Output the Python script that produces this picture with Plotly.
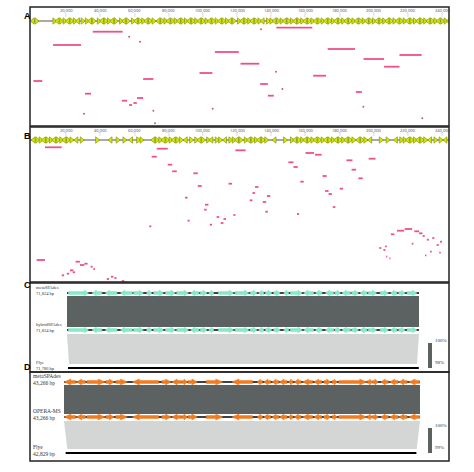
import plotly.graph_objects as go

W, H = 474, 472

# ---------------- data ----------------
a_segs = [(12.3,28.7,45),(35.5,53,31.7),(143,164,27.7),(107,121,52),(122,133,63.7),(173,189,49),
          (194,206,59),(215,228,55),(206,215,66.7),(98,105.5,73),(164.5,172,75.7),(0.8,6,81),
          (65,71,79),(31,34.5,93.7),(133.5,138,84),(138,141.5,95.7),(189.5,193,92),(52.6,55.6,100.7),
          (61.4,65,98),(56.8,58.5,105),(59.3,61.3,103)]
a_dots = [(56.8,36.7),(63.2,41.7),(134,29.3),(142.8,71.7),(146.5,89),(30.4,113.7),(71,110.7),
          (105.7,108.7),(193.9,106.7),(228.4,118.3),(72,123.3)]
b_segs = [(7.6,17.3,147.3),(73,79.4,148.7),(119,125,150.3),(160,165,153),(165.6,169.5,154.7),
          (70,73,156.7),(197,201,158.7),(184,187.5,160.3),(150,153,162.3),(153,155.5,167),
          (79.4,82,164.7),(82,84.7,171.3),(94.4,97,173.3),(187,189.6,169.7),(191,193.5,178.3),
          (170,172.4,176),(97,99.3,186),(115,117,183.7),(157,159,181.7),(180,182,188.7),
          (130.5,132.5,187),(129,130.5,193),(171.5,173.5,191),(173.5,175.5,194),(137.4,139.4,196),
          (127.4,129,200.3),(135,137,202),(176,177.5,207),(136.5,138,211.7),(101.2,103.2,204.7),
          (100.7,102.2,209.7),(89.5,91,197.7),(108,109.5,217),(110.4,112,223),(112,113.5,219),
          (117.8,119,215),(104,105.3,224.7),(91,92.2,220.7),(155,156.3,214),(68.6,69.8,226.3),
          (2.7,7.6,260),(25.5,28,261.7),(28,30.6,265),(30.6,32.5,263.7),(22.2,24.2,270.3),
          (23.8,25.2,272.3),(20.3,21.7,273.7),(17.4,18.8,275.3),(34.3,35.5,266.7),(35.9,36.8,269),
          (43.7,45.1,279),(46.2,47.6,276.7),(48.2,49.4,278),(52.5,53.9,281),(54.8,55.8,282.5),
          (218,222.4,229),(213.6,217.7,230.7),(210,212,234.3),(223.7,226.5,231.3),(226.5,228.5,233.3),
          (228.6,229.8,236),(231,232.2,239.7),(234.2,235.4,238),(238.7,239.9,241.7),(236.8,238,245),
          (222.2,223.2,243.7),(232.9,233.9,251.7),(230,230.8,255.3),(238.3,239.2,252.7),
          (203.2,204.4,248),(205.6,206.8,250),(206.6,207.6,246.3),(207.2,207.9,256.7),(209.1,209.8,258.3)]

a_genes = [0.5,2.5,13,15,17,19,21,23,25,27,29.5,32,34,36,39,41,43,45,47,49,52,54,56,59,61,63,65,67,
           69,71,74,76,78,80,82,84,86,88,90,92,94,96,98,100,102,104,106,108,110,112,114,116,118,
           121,123,125,127,129,131,133,135,138,140,142,144,146,148,150,152,154,156,158,160,162,
           164,166,168,170,172,174,176,178,180,182,184,186,188,190,192,194,196,198,200,202,204,
           206,208,210,212,214,216,218,220,222,224,226,228,230,232,234,236,238,240,242,244]
b_genes = [1,3,5,7,9,11,13,15,17,19,21,23,26,29,38,46,50,54,58,62,64,71,73,75,77,79,81,83,85,
           87,90,93,96,98,100,103,105,108,110,113,116,118,120,122,125,127,129,131,133,135,137,
           142,148,152,154,156,158,160,162,164,166,168,170,172,174,176,178,180,182,184,186,188,
           191,193,195,198,204,208,213,216,218,220,222,224,226,228,230,233,236,239,242]
a_ticks = [20,40,60,80,100,120,140,160,180,200,220,240]
a_tick_labels = ["20,000","40,000","60,000","80,000","100,000","120,000","140,000","160,000",
                 "180,000","200,000","220,000","240,000"]

c_genes = [(0.3,4.4,1),(5.1,7.1,-1),(7.8,10.2,-1),(10.9,13.3,-1),(13.6,15.6,1),(16.3,17.3,1),
           (17.7,19.7,1),(20.1,22.1,1),(22.4,24.8,1),(25.2,26.9,-1),(27.2,28.6,1),(28.9,29.9,-1),
           (30.9,34,1),(34.3,37.1,1),(37.4,38.8,1),(39.1,40.1,-1),(40.5,41.8,1),(42.2,43.5,1),
           (44.2,45.2,-1),(45.6,48,1),(48.3,50.3,-1),(50.7,52,-1),(52.7,54.4,-1),(54.7,55.8,1),
           (56.1,57.8,-1),(58.1,59.5,1),(59.8,61.2,-1),(61.5,63.2,1),(63.9,65.6,1),(66,67.3,-1),
           (67.7,69,1),(69.4,71.4,1)]
c_len = [71.824, 71.824, 71.786]
c_names = ["metaSPAdes<br>71,824 bp", "hybridSPAdes<br>71,824 bp", "Flye<br>71,786 bp"]
d_genes = [(0,1.4,-1),(1.5,2.6,-1),(2.8,5.0,1),(5.1,6.1,1),(6.3,7.7,1),(8.3,11.5,-1),(11.9,13,1),
           (13.1,14.2,-1),(14.3,15,1),(15.1,16.2,1),(17.3,19.3,1),(20.4,22.9,-1),(23.5,24.1,-1),
           (24.3,25.1,-1),(25.3,26.1,-1),(26.2,27.1,-1),(27.3,27.8,-1),(28,28.8,-1),(29,30.2,-1),
           (30.4,31.3,-1),(31.6,32.4,1),(32.6,33.2,1),(33.4,36.8,1),(36.9,37.5,1),(37.5,38.2,1),
           (38.5,39.4,-1),(39.6,40.6,-1),(40.7,41.7,-1),(41.9,43.2,-1)]
d_len = [43.266, 43.266, 42.829]
d_names = ["metaSPAdes<br>43,266 bp", "OPERA-MS<br>43,266 bp", "Flye<br>42,829 bp"]
c_scale = ["100%", "98%"]
d_scale = ["100%", "99%"]

# ---------------- helpers ----------------
def py(px):
    return 1 - px / H

def arrows(genes, yc, h, head):
    xs, ys = [], []
    for s, e, st in genes:
        hl = min(head, (e - s) * 0.6)
        if st > 0:
            px_ = [s, e - hl, e - hl, e, e - hl, e - hl, s, s]
        else:
            px_ = [e, s + hl, s + hl, s, s + hl, s + hl, e, e]
        py_ = [yc - h/4, yc - h/4, yc - h/2, yc, yc + h/2, yc + h/4, yc + h/4, yc - h/4]
        xs += px_ + [None]; ys += py_ + [None]
    return xs, ys

fig = go.Figure()
pink = "#f0508a"

def seg_trace(segs, dots, ax):
    xs, ys = [], []
    for s, e, y in segs:
        xs += [s, e, None]; ys += [y, y, None]
    fig.add_trace(go.Scatter(x=xs, y=ys, mode="lines", line=dict(color=pink, width=1.8),
                             xaxis="x"+ax, yaxis="y"+ax, hoverinfo="skip"))
    if dots:
        fig.add_trace(go.Scatter(x=[d[0] for d in dots], y=[d[1] for d in dots], mode="markers",
                                 marker=dict(color="#c0607a", size=2), xaxis="x"+ax, yaxis="y"+ax))

def gene_track(centres, yc, ax):
    fig.add_trace(go.Scatter(x=[-1, 245], y=[yc, yc], mode="lines", line=dict(color="#555", width=1),
                             xaxis="x"+ax, yaxis="y"+ax))
    sym = ["triangle-right" if i % 3 else "triangle-left" for i in range(len(centres))]
    fig.add_trace(go.Scatter(x=centres, y=[yc]*len(centres), mode="markers",
                             marker=dict(symbol=sym, size=5.5, color="#d4e800",
                                         line=dict(color="#7a8a00", width=0.6)),
                             xaxis="x"+ax, yaxis="y"+ax))
    for t, lab in zip(a_ticks, a_tick_labels):
        fig.add_annotation(x=t, y=yc - 10, text=lab, showarrow=False, xref="x"+ax, yref="y"+ax,
                           font=dict(size=4, color="#445"))
        fig.add_annotation(x=t, y=yc - 6, text="|", showarrow=False, xref="x"+ax, yref="y"+ax,
                           font=dict(size=3, color="#445"))

seg_trace(a_segs, a_dots, "")
gene_track(a_genes, 21, "")
seg_trace(b_segs, None, "2")
gene_track(b_genes, 140, "2")

def synteny(genes, lens, names, ax, ys, col, xl, fs):
    y1, y2, y3 = ys
    L = lens[0]
    fig.add_shape(type="path", xref="x"+ax, yref="y"+ax,
                  path=f"M 0 {y1+3} L {L} {y1+3} L {L} {y2-3} L 0 {y2-3} Z",
                  fillcolor="#5c6162", line_width=0, layer="below")
    fig.add_shape(type="path", xref="x"+ax, yref="y"+ax,
                  path=f"M 0 {y2+4} L {L} {y2+4} L {L-0.4} {y3-4} L 0.4 {y3-4} Z",
                  fillcolor="#d4d6d6", line_width=0, layer="below")
    for y in (y1, y2):
        fig.add_trace(go.Scatter(x=[0, L], y=[y, y], mode="lines", line=dict(color="black", width=1.6),
                                 xaxis="x"+ax, yaxis="y"+ax))
        xs, yv = arrows(genes, y, 6, 0.9 * L / 72 * (1.6 if ax == "4" else 1))
        fig.add_trace(go.Scatter(x=xs, y=yv, mode="lines", fill="toself", fillcolor=col,
                                 line=dict(color=col, width=0.5), xaxis="x"+ax, yaxis="y"+ax))
    fig.add_trace(go.Scatter(x=[0.2, lens[2]], y=[y3, y3], mode="lines",
                             line=dict(color="black", width=2), xaxis="x"+ax, yaxis="y"+ax))
    for nm, y in zip(names, (y1, y2, y3)):
        fig.add_annotation(x=xl, y=py(y + 6), xref="paper", yref="paper", text=nm, showarrow=False,
                           xanchor="left", yanchor="bottom", align="left",
                           font=dict(family="Liberation Serif", size=fs, color="#333"))

synteny(c_genes, c_len, c_names, "3", (293, 330, 368), "#86e8c6", 34/W, 4.5)
synteny(d_genes, d_len, d_names, "4", (382, 417, 453), "#f07c22", 31/W, 5.5)

for top, bot, labs in ((343, 368, c_scale), (428, 453, d_scale)):
    fig.add_shape(type="rect", xref="paper", yref="paper", x0=428/W, x1=432/W, y0=py(bot), y1=py(top),
                  fillcolor="#5c6162", line_width=0)
    fig.add_annotation(x=433/W, y=py(top + 2), xref="paper", yref="paper", text=labs[0], showarrow=False,
                       xanchor="left", font=dict(family="Liberation Serif", size=5, color="#333"))
    fig.add_annotation(x=433/W, y=py(bot - 1), xref="paper", yref="paper", text=labs[1], showarrow=False,
                       xanchor="left", font=dict(family="Liberation Serif", size=5, color="#333"))

for top, bot, let in ((7, 126, "A"), (127, 282, "B"), (283, 372, "C"), (372, 461, "D")):
    fig.add_shape(type="rect", xref="paper", yref="paper", x0=30/W, x1=449/W, y0=py(bot), y1=py(top),
                  line=dict(color="#222", width=1.5))
    fig.add_annotation(x=22/W, y=py(top + 2), xref="paper", yref="paper", text=f"<b>{let}</b>",
                       showarrow=False, font=dict(family="Liberation Sans", size=9, color="black"))

ax_off = dict(visible=False, fixedrange=True)
fig.update_layout(
    width=W, height=H, margin=dict(l=0, r=0, t=0, b=0), showlegend=False,
    paper_bgcolor="white", plot_bgcolor="rgba(0,0,0,0)",
    xaxis=dict(domain=[30/W, 449/W], range=[-1.2, 244], anchor="y", **ax_off),
    yaxis=dict(domain=[py(126), py(7)], range=[126, 7], anchor="x", **ax_off),
    xaxis2=dict(domain=[30/W, 449/W], range=[-1.2, 244], anchor="y2", **ax_off),
    yaxis2=dict(domain=[py(282), py(127)], range=[282, 127], anchor="x2", **ax_off),
    xaxis3=dict(domain=[67/W, 419/W], range=[0, 71.824], anchor="y3", **ax_off),
    yaxis3=dict(domain=[py(372), py(283)], range=[372, 283], anchor="x3", **ax_off),
    xaxis4=dict(domain=[64/W, 420/W], range=[0, 43.266], anchor="y4", **ax_off),
    yaxis4=dict(domain=[py(461), py(372)], range=[461, 372], anchor="x4", **ax_off),
)
fig.write_html("out.html", config={"displayModeBar": False})
with open("out.html", encoding="utf-8") as f:
    html = f.read()
html = html.replace("<head>", "<head><style>html,body{margin:0;padding:0;overflow:hidden}</style>", 1)
with open("out.html", "w", encoding="utf-8") as f:
    f.write(html)
